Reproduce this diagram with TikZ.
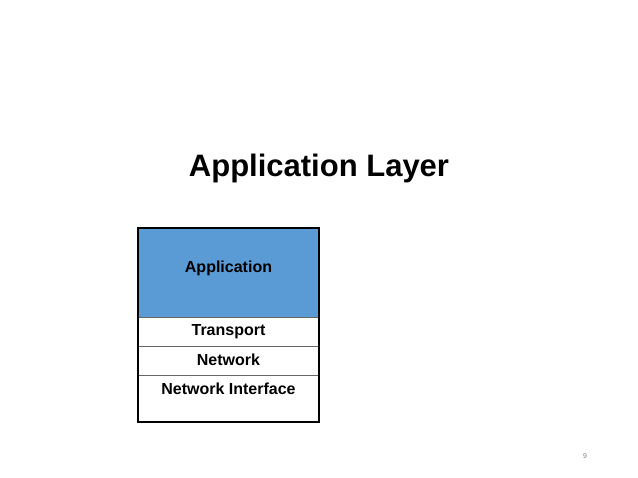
\documentclass[tikz,border=0pt]{standalone}
\usepackage{fontspec}
\setmainfont{Liberation Sans}
\definecolor{appblue}{HTML}{5B9BD5}
\begin{document}
\begin{tikzpicture}[x=1pt,y=-1pt,
  lbl/.style={font=\fontsize{16}{18}\selectfont\bfseries, anchor=center},
  sep/.style={draw=black!60, line width=0.8pt}]
\useasboundingbox (0,0) rectangle (638,478);
\node[font=\fontsize{31}{36}\selectfont\bfseries] (title) at (319,168) {Application Layer};
\fill[appblue] (138,228) rectangle (319,317);
\draw[sep] (138,317) -- (319,317);
\draw[sep] (138,346) -- (319,346);
\draw[sep] (138,375) -- (319,375);
\draw[line width=1.5pt] (138,228) rectangle (319,422);
\node[lbl] (app) at (228.5,268) {Application};
\node[lbl] (tr) at (228.5,331.5) {Transport};
\node[lbl] (net) at (228.5,360) {Network};
\node[lbl] (ni) at (228.5,389) {Network Interface};
\node[font=\fontsize{7}{8}\selectfont, text=black!50] (pg) at (585,456) {9};
\end{tikzpicture}
\end{document}
